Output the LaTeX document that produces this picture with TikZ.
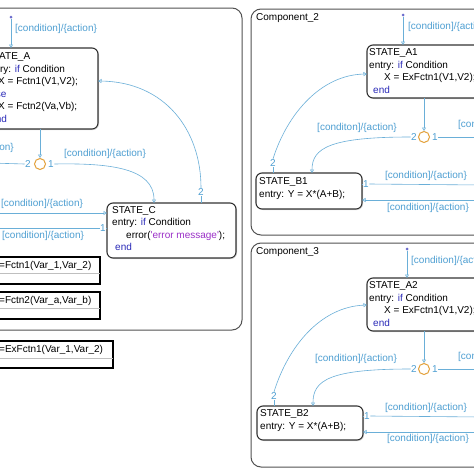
\documentclass[tikz,border=0pt]{standalone}
\usepackage{fontspec}
\setmainfont{Liberation Sans}
\usetikzlibrary{arrows.meta,shadows,calc}
\definecolor{cblue}{HTML}{6AAFD8}
\definecolor{lblue}{HTML}{4E9FD2}
\definecolor{kw}{HTML}{2A2AB8}
\definecolor{purp}{HTML}{9B30C8}
\definecolor{jor}{HTML}{E3A03A}
\definecolor{bord}{HTML}{333333}
\begin{document}
\begin{tikzpicture}[x=1pt,y=-1pt, font=\fontsize{10}{12}\selectfont,
 comp/.style={draw=bord!85, line width=1pt, rounded corners=10pt, anchor=north west, inner sep=0pt, outer sep=0pt},
 state/.style={draw=bord, line width=1.1pt, rounded corners=6pt, fill=white, anchor=north west, inner sep=0pt, outer sep=0pt, drop shadow={shadow xshift=1pt, shadow yshift=-1pt, opacity=0.3}},
 fbox/.style={draw=black, line width=1.6pt, fill=white, anchor=north west, inner sep=0pt, outer sep=0pt, drop shadow={shadow xshift=1pt, shadow yshift=-1pt, opacity=0.3}},
 txt/.style={anchor=base west, inner sep=0pt},
 lab/.style={text=lblue, inner sep=0pt},
 num/.style={text=lblue, inner sep=0.5pt},
 ln/.style={draw=cblue, line width=0.6pt},
 tr/.style={ln, -{Triangle[open,length=3.5pt,width=4pt]}},
 junc/.style={circle, draw=jor, line width=1pt, minimum size=11pt, inner sep=0pt},
 idot/.style={circle, fill=kw!70, minimum size=3pt, inner sep=0pt},
 sep/.style={draw=gray!50, line width=0.6pt}
]
\useasboundingbox (0,0) rectangle (474,474);
\fill[white] (0,0) rectangle (474,474);
\clip (0,0) rectangle (474,474);

% ---------- containers ----------
\node[comp, minimum width=262pt, minimum height=322pt] (C1) at (-20,8) {};
\node[comp, minimum width=249pt, minimum height=226pt] (C2) at (251,9) {};
\node[comp, minimum width=249pt, minimum height=224pt] (C3) at (251,243) {};
\node[txt] (c2t) at (256,20.6) {Component\_2};
\node[txt] (c3t) at (256,254.6) {Component\_3};

% ---------- left component ----------
\node[state, minimum width=118pt, minimum height=81pt] (SA) at (-20,48) {};
\node[txt] (sa1) at (-13,59.5) {STATE\_A};
\node[txt] (sa2) at (-14,72) {entry: \textcolor{kw}{if} Condition};
\node[txt] (sa3) at (-2,84.5) {X = Fctn1(V1,V2);};
\node[txt] (sa4) at (-12,97) {\textcolor{kw}{else}};
\node[txt] (sa5) at (-2,109.5) {X = Fctn2(Va,Vb);};
\node[txt] (sa6) at (-10,122) {\textcolor{kw}{end}};

\node[state, minimum width=129pt, minimum height=55pt] (SC) at (107,203) {};
\node[txt] (sc1) at (112,213.1) {STATE\_C};
\node[txt] (sc2) at (112,225.6) {entry: \textcolor{kw}{if} Condition};
\node[txt] (sc3) at (126,238.1) {error(\textcolor{purp}{\textquotesingle error message\textquotesingle});};
\node[txt] (sc4) at (115,250.6) {\textcolor{kw}{end}};

\node[fbox, minimum width=120pt, minimum height=27pt] (BX1) at (-20,257) {};
\draw[sep] ($(BX1.north west)+(0,16)$) -- ($(BX1.north east)+(0,16)$);
\node[txt] (bx1t) at (-1,268.6) {=Fctn1(Var\_1,Var\_2)};
\node[fbox, minimum width=120pt, minimum height=27pt] (BX2) at (-20,292) {};
\draw[sep] ($(BX2.north west)+(0,16)$) -- ($(BX2.north east)+(0,16)$);
\node[txt] (bx2t) at (-1,303.6) {=Fctn2(Var\_a,Var\_b)};
\node[fbox, minimum width=133pt, minimum height=27pt] (BX3) at (-20,341) {};
\draw[sep] ($(BX3.north west)+(0,17)$) -- ($(BX3.north east)+(0,17)$);
\node[txt] (bx3t) at (-1,352.6) {=ExFctn1(Var\_1,Var\_2)};

\node[junc] (J0) at (40,164) {};
\node[idot] (d0) at (11,17) {};
\draw[tr] (d0) -- (d0 |- SA.north);
\draw[tr] (J0 |- SA.south) -- (J0.north);

\node[num] (n02) at (28,164) {2};
\node[num] (n01) at (51,164) {1};
\node[num] (n03) at (201,192) {2};
\node[num] (n04) at (103,228) {1};

\coordinate (e0) at (-10,163);
\draw[ln] (n02.west) -- (e0);
\draw[tr] (n01.east) .. controls (110,163) and (154,168) .. ($(SC.north west)+(47,0)$);
\draw[ln] (n03.south) -- (n03 |- SC.north);
\draw[tr] (n03.north) .. controls (201,130) and (165,82) .. ($(SA.north east)+(0,33)$);
\coordinate (e1) at (-10,213);
\draw[tr] (e1) -- (e1 -| SC.west);
\coordinate (e2) at (-10,228);
\draw[ln] (n04.west) -- (e2);
\draw[ln] (n04.east) -- (n04 -| SC.west);

\node[lab, anchor=west] (l0) at (15,29) {[condition]/\{action\}};
\node[lab, anchor=east] (l1) at (14,148) {[condition]/\{action\}};
\node[lab] (l2) at (105,154) {[condition]/\{action\}};
\node[lab, anchor=west] (l3) at (1,204) {[condition]/\{action\}};
\node[lab, anchor=west] (l4) at (2,236) {[condition]/\{action\}};

% ---------- Component_2 ----------
\node[state, minimum width=133pt, minimum height=53pt] (SA1) at (367,45) {};
\node[txt] (a11) at (369,55.6) {STATE\_A1};
\node[txt] (a12) at (369,68.1) {entry: \textcolor{kw}{if} Condition};
\node[txt] (a13) at (384,80.6) {X = ExFctn1(V1,V2);};
\node[txt] (a14) at (373,93.1) {\textcolor{kw}{end}};

\node[state, minimum width=106pt, minimum height=36pt] (SB1) at (256,173) {};
\node[txt] (b11) at (259,184.6) {STATE\_B1};
\node[txt] (b12) at (259,197.1) {entry: Y = X*(A+B);};

\node[junc] (J1) at (424,137) {};
\node[idot] (d1) at (403,15) {};
\draw[tr] (d1) -- (d1 |- SA1.north);
\draw[tr] (J1 |- SA1.south) -- (J1.north);

\node[num] (n12) at (414,137) {2};
\node[num] (n11) at (435,137) {1};
\node[num] (n13) at (273,163) {2};
\node[num] (n14) at (366,184) {1};

\draw[tr] (n12.west) .. controls (330,137) and (312,148) .. ($(SB1.north west)+(56,0)$);
\coordinate (f0) at (480,137);
\draw[ln] (n11.east) -- (f0);
\draw[ln] (n13.south) -- (n13 |- SB1.north);
\draw[tr] (n13.north) .. controls (288,112) and (322,75) .. ($(SA1.north west)+(0,29)$);
\coordinate (f1) at (480,185);
\draw[ln] (n14.east) -- (f1);
\draw[ln] (n14.west) -- (n14 -| SB1.east);
\coordinate (f2) at (480,200);
\draw[tr] (f2) -- (f2 -| SB1.east);

\node[lab, anchor=west] (m0) at (408,27) {[condition]/\{action\}};
\node[lab] (m1) at (357,128) {[conditon]/\{action\}};
\node[lab, anchor=west] (m2) at (458,125) {[condition]/\{action\}};
\node[lab] (m3) at (426,176) {[condition]/\{action\}};
\node[lab] (m4) at (428,208) {[condition]/\{action\}};

% ---------- Component_3 ----------
\node[state, minimum width=133pt, minimum height=53pt] (SA2) at (367,278) {};
\node[txt] (a21) at (369,288.6) {STATE\_A2};
\node[txt] (a22) at (369,301.1) {entry: \textcolor{kw}{if} Condition};
\node[txt] (a23) at (384,313.6) {X = ExFctn1(V1,V2);};
\node[txt] (a24) at (373,326.1) {\textcolor{kw}{end}};

\node[state, minimum width=106pt, minimum height=34pt] (SB2) at (257,406) {};
\node[txt] (b21) at (260,416.6) {STATE\_B2};
\node[txt] (b22) at (260,429.1) {entry: Y = X*(A+B);};

\node[junc] (J2) at (424,369) {};
\node[idot] (d2) at (407,249) {};
\draw[tr] (d2) -- (d2 |- SA2.north);
\draw[tr] (J2 |- SA2.south) -- (J2.north);

\node[num] (n22) at (414,369) {2};
\node[num] (n21) at (435,369) {1};
\node[num] (n23) at (274,396) {2};
\node[num] (n24) at (367,416) {1};

\draw[tr] (n22.west) .. controls (330,369) and (313,380) .. ($(SB2.north west)+(56,0)$);
\coordinate (g0) at (480,369);
\draw[ln] (n21.east) -- (g0);
\draw[ln] (n23.south) -- (n23 |- SB2.north);
\draw[tr] (n23.north) .. controls (289,344) and (322,307) .. ($(SA2.north west)+(0,27)$);
\coordinate (g1) at (480,417);
\draw[ln] (n24.east) -- (g1);
\draw[ln] (n24.west) -- (n24 -| SB2.east);
\coordinate (g2) at (480,432);
\draw[tr] (g2) -- (g2 -| SB2.east);

\node[lab, anchor=west] (k0) at (411,261) {[condition]/\{action\}};
\node[lab] (k1) at (356,359) {[condition]/\{action\}};
\node[lab, anchor=west] (k2) at (458,357) {[condition]/\{action\}};
\node[lab] (k3) at (426,408) {[condition]/\{action\}};
\node[lab] (k4) at (428,439) {[condition]/\{action\}};
\end{tikzpicture}
\end{document}
